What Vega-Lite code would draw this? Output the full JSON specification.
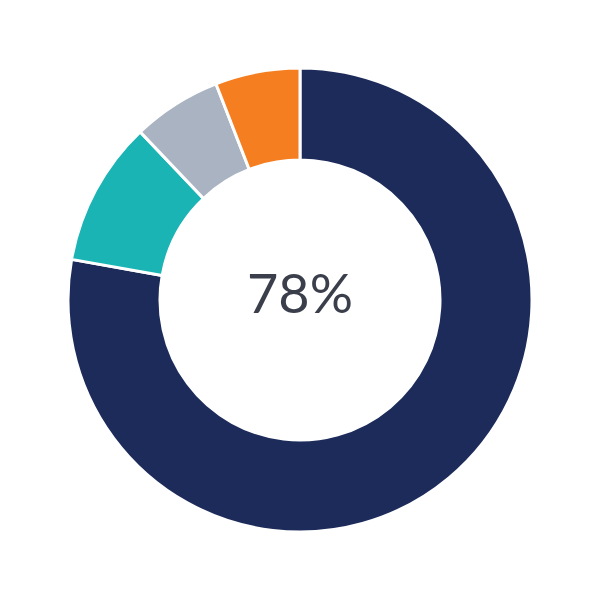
{
  "$schema": "https://vega.github.io/schema/vega-lite/v6.json",
  "width": 600,
  "height": 600,
  "autosize": {"type": "fit", "contains": "padding"},
  "padding": 0,
  "background": "#ffffff",
  "view": {"stroke": null},
  "data": {
    "values": [
      {"segment": "A", "order": 1, "share": 77.8},
      {"segment": "B", "order": 2, "share": 10.1},
      {"segment": "C", "order": 3, "share": 6.2},
      {"segment": "D", "order": 4, "share": 5.9}
    ]
  },
  "layer": [
    {
      "mark": {"type": "arc", "radius": 232, "radius2": 140, "stroke": "#ffffff", "strokeWidth": 3},
      "encoding": {
        "theta": {"field": "share", "type": "quantitative", "stack": true},
        "order": {"field": "order", "type": "quantitative"},
        "color": {
          "field": "segment",
          "type": "nominal",
          "legend": null,
          "scale": {"domain": ["A", "B", "C", "D"], "range": ["#1c2b5a", "#1ab4b4", "#a9b3c1", "#f47e20"]}
        }
      }
    },
    {
      "data": {"values": [{"label": "78%"}]},
      "mark": {"type": "text", "fontSize": 54, "font": "Lato", "fontWeight": 400, "color": "#3a3f4b", "baseline": "middle", "align": "center", "dy": -3},
      "encoding": {
        "text": {"field": "label", "type": "nominal"}
      }
    }
  ]
}
